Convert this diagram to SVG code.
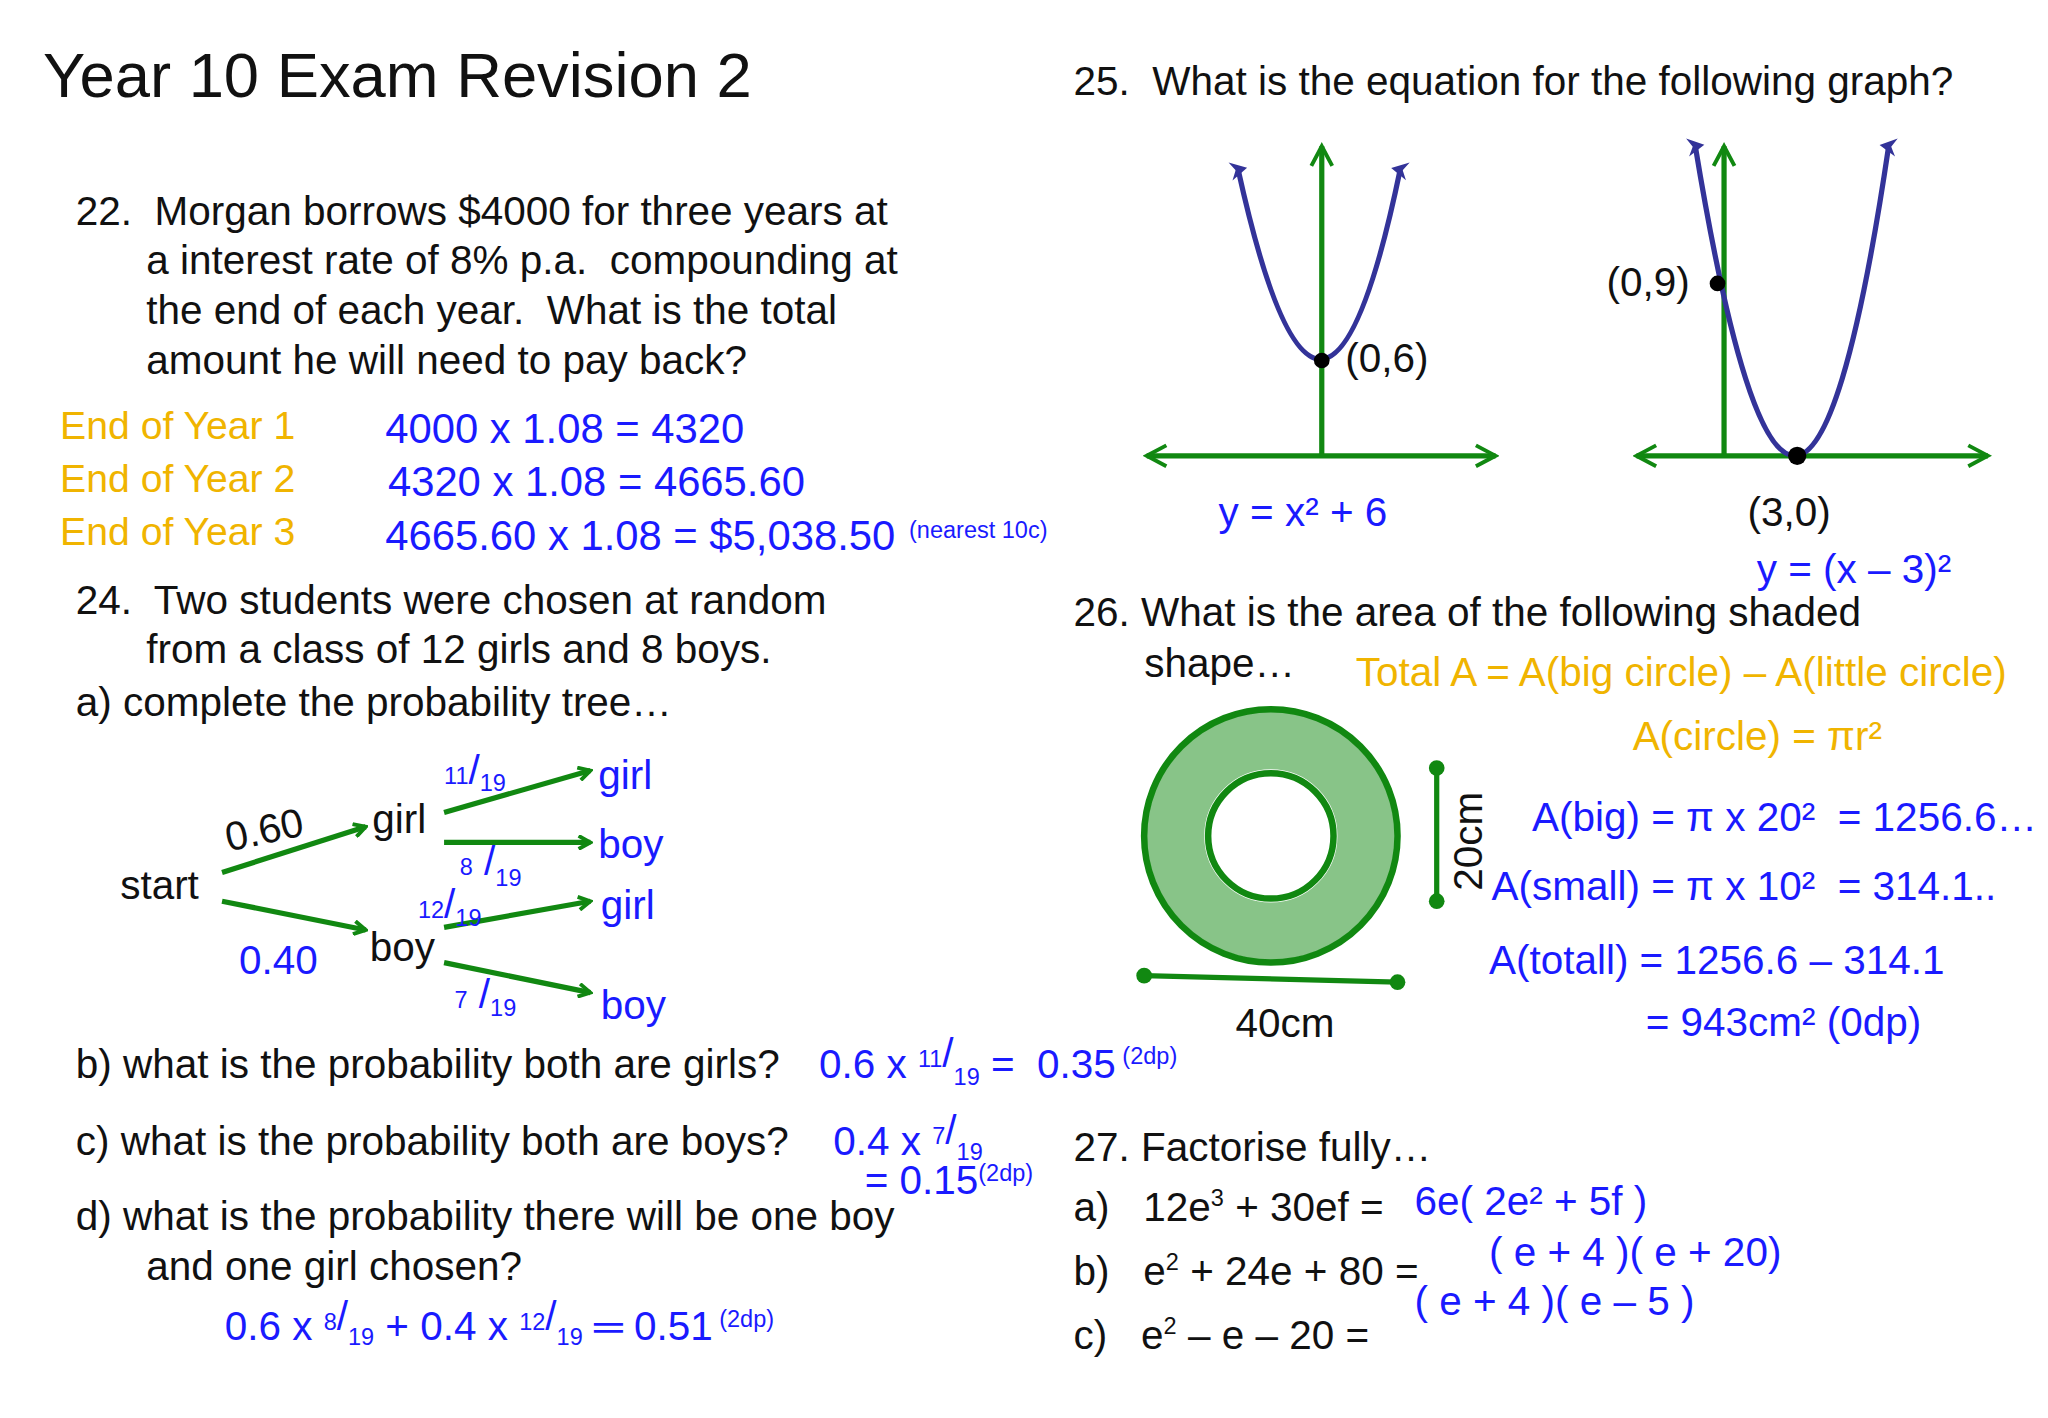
<svg xmlns="http://www.w3.org/2000/svg" width="2048" height="1418" viewBox="0 0 2048 1418" xml:space="preserve">
<style>
text{font-family:"Liberation Sans",Arial,sans-serif;font-size:31px;fill:#111;white-space:pre}
.b{fill:#1a1aff}.g{fill:#f0b400}.s{font-size:18px}.t{font-size:30px}
.ln{stroke:#118811;stroke-width:4;fill:none}
.ax{stroke:#118811;stroke-width:4;fill:none}
.cv{stroke:#333399;stroke-width:4;fill:none}
</style>
<defs>
<marker id="ar" markerWidth="12" markerHeight="12" refX="10" refY="6" orient="auto" markerUnits="userSpaceOnUse"><path d="M1,1 L10,6 L1,11" fill="none" stroke="#118811" stroke-width="3"/></marker>
<marker id="ar2" markerWidth="20" markerHeight="20" refX="17" refY="10" orient="auto-start-reverse" markerUnits="userSpaceOnUse"><path d="M2,2 L17,10 L2,18" fill="none" stroke="#118811" stroke-width="3"/></marker>
<marker id="ac" markerWidth="16" markerHeight="16" refX="8" refY="8" orient="auto" markerUnits="userSpaceOnUse"><path d="M1,14 L8,1 L15,14 L8,10z" fill="#333399"/></marker>
</defs>
<rect width="2048" height="1418" fill="#fff"/>
<g transform="scale(1.3061)">
<g id="title"><text x="33" y="74" style="font-size:48.5px">Year 10 Exam Revision 2</text></g>
<g id="q22">
<text x="58" y="172">22.  Morgan borrows $4000 for three years at</text>
<text x="112" y="210">a interest rate of 8% p.a.  compounding at</text>
<text x="112" y="248">the end of each year.  What is the total</text>
<text x="112" y="286">amount he will need to pay back?</text>
<text class="g t" x="46" y="336">End of Year 1</text>
<text class="g t" x="46" y="377">End of Year 2</text>
<text class="g t" x="46" y="417">End of Year 3</text>
<text class="b" x="295" y="339" style="font-size:32px">4000 x 1.08 = 4320</text>
<text class="b" x="297" y="380" style="font-size:32px">4320 x 1.08 = 4665.60</text>
<text class="b" x="295" y="421" style="font-size:32px">4665.60 x 1.08 = $5,038.50</text>
<text class="b s" x="696" y="412">(nearest 10c)</text>
</g>
<g id="q24">
<text x="58" y="470">24.  Two students were chosen at random</text>
<text x="112" y="508">from a class of 12 girls and 8 boys.</text>
<text x="58" y="548">a) complete the probability tree…</text>
</g>
<g id="connectors">
<line class="ln" x1="170" y1="668" x2="280" y2="633" marker-end="url(#ar)"/>
<line class="ln" x1="170" y1="690" x2="280" y2="712" marker-end="url(#ar)"/>
<line class="ln" x1="340" y1="622" x2="452" y2="590" marker-end="url(#ar)"/>
<line class="ln" x1="340" y1="645" x2="452" y2="645" marker-end="url(#ar)"/>
<line class="ln" x1="340" y1="710" x2="452" y2="690" marker-end="url(#ar)"/>
<line class="ln" x1="340" y1="737" x2="452" y2="760" marker-end="url(#ar)"/>
</g>
<g id="tree">
<text x="92" y="688">start</text>
<text x="285" y="638">girl</text>
<text x="283" y="736">boy</text>
<text x="175" y="652" transform="rotate(-12 175 652)">0.60</text>
<text class="b" x="183" y="746">0.40</text>
<text class="b" x="458" y="604">girl</text>
<text class="b" x="458" y="657">boy</text>
<text class="b" x="460" y="704">girl</text>
<text class="b" x="460" y="780">boy</text>
<text class="b" x="340" y="600"><tspan class="s">11</tspan>/<tspan class="s" dy="6">19</tspan></text>
<text class="b" x="352" y="676"><tspan class="s" dy="-6">8</tspan> /<tspan class="s" dy="8">19</tspan></text>
<text class="b" x="320" y="703"><tspan class="s">12</tspan>/<tspan class="s" dy="6">19</tspan></text>
<text class="b" x="348" y="772"><tspan class="s">7</tspan> /<tspan class="s" dy="6">19</tspan></text>
</g>
<g id="q24bcd">
<text x="58" y="825">b) what is the probability both are girls?</text>
<text class="b" x="627" y="825">0.6 x <tspan class="s" dy="-8">11</tspan>/<tspan class="s" dy="14">19</tspan><tspan dy="-6"> =  0.35</tspan><tspan class="s" dy="-10"> (2dp)</tspan></text>
<text x="58" y="884">c) what is the probability both are boys?</text>
<text class="b" x="638" y="884">0.4 x <tspan class="s" dy="-8">7</tspan>/<tspan class="s" dy="12">19</tspan></text>
<text class="b" x="662" y="914">= 0.15<tspan class="s" dy="-10">(2dp)</tspan></text>
<text x="58" y="942">d) what is the probability there will be one boy</text>
<text x="112" y="980">and one girl chosen?</text>
<text class="b" x="172" y="1026">0.6 x <tspan class="s" dy="-8">8</tspan>/<tspan class="s" dy="12">19</tspan><tspan dy="-4"> + 0.4 x </tspan><tspan class="s" dy="-8">12</tspan>/<tspan class="s" dy="12">19</tspan><tspan dy="-4"> ═ 0.51</tspan><tspan class="s" dy="-10"> (2dp)</tspan></text>
</g>
<g id="q25">
<text x="822" y="73">25.  What is the equation for the following graph?</text>
<line class="ax" x1="1012" y1="350" x2="1012" y2="112" marker-end="url(#ar2)"/>
<line class="ax" x1="878" y1="349" x2="1145" y2="349" marker-start="url(#ar2)" marker-end="url(#ar2)"/>
<path class="cv" d="M948,130 Q1012,420 1072,130" marker-start="url(#ac)" marker-end="url(#ac)"/>
<circle cx="1012" cy="276" r="6" fill="#000"/>
<text x="1030" y="285">(0,6)</text>
<text class="b" x="933" y="403">y = x² + 6</text>
<line class="ax" x1="1320" y1="350" x2="1320" y2="112" marker-end="url(#ar2)"/>
<line class="ax" x1="1253" y1="349" x2="1522" y2="349" marker-start="url(#ar2)" marker-end="url(#ar2)"/>
<path class="cv" d="M1298,112 Q1376,586 1446,112" marker-start="url(#ac)" marker-end="url(#ac)"/>
<circle cx="1315" cy="217" r="6" fill="#000"/>
<circle cx="1376" cy="349" r="7" fill="#000"/>
<text x="1230" y="227">(0,9)</text>
<text x="1338" y="403">(3,0)</text>
<text class="b" x="1345" y="446">y = (x – 3)²</text>
</g>
<g id="q26">
<text x="822" y="479">26. What is the area of the following shaded</text>
<text x="876" y="518">shape…</text>
<text class="g" x="1038" y="525">Total A = A(big circle) – A(little circle)</text>
<text class="g" x="1250" y="574">A(circle) = πr²</text>
<circle cx="973" cy="640" r="73" fill="none" stroke="#88c488" stroke-width="44"/>
<circle cx="973" cy="640" r="97" fill="none" stroke="#118811" stroke-width="5"/>
<circle cx="973" cy="640" r="48" fill="#fff" stroke="#118811" stroke-width="5"/>
<line class="ax" x1="1100" y1="588" x2="1100" y2="690"/>
<circle cx="1100" cy="588" r="6" fill="#118811"/><circle cx="1100" cy="690" r="6" fill="#118811"/>
<text x="1135" y="682" transform="rotate(-90 1135 682)">20cm</text>
<line class="ax" x1="876" y1="747" x2="1070" y2="752"/>
<circle cx="876" cy="747" r="6" fill="#118811"/><circle cx="1070" cy="752" r="6" fill="#118811"/>
<text x="946" y="794">40cm</text>
<text class="b" x="1173" y="636">A(big) = π x 20²  = 1256.6…</text>
<text class="b" x="1142" y="689">A(small) = π x 10²  = 314.1..</text>
<text class="b" x="1140" y="746">A(totall) = 1256.6 – 314.1</text>
<text class="b" x="1260" y="793">= 943cm² (0dp)</text>
</g>
<g id="q27">
<text x="822" y="889">27. Factorise fully…</text>
<text x="822" y="935">a)   12e<tspan class="s" dy="-12">3</tspan><tspan dy="12"> + 30ef =</tspan></text>
<text class="b" x="1083" y="930">6e( 2e² + 5f )</text>
<text x="822" y="984">b)   e<tspan class="s" dy="-12">2</tspan><tspan dy="12"> + 24e + 80 =</tspan></text>
<text class="b" x="1140" y="969">( e + 4 )( e + 20)</text>
<text x="822" y="1033">c)   e<tspan class="s" dy="-12">2</tspan><tspan dy="12"> – e – 20 =</tspan></text>
<text class="b" x="1083" y="1007">( e + 4 )( e – 5 )</text>
</g>
</g>
</svg>
